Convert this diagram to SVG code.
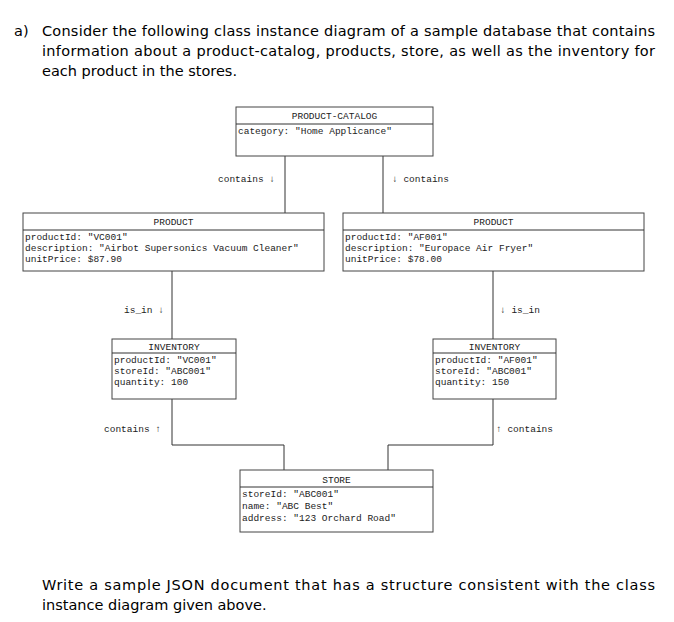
<svg xmlns="http://www.w3.org/2000/svg" width="674" height="622" viewBox="0 0 674 622">
<style>
.p{font-family:"DejaVu Sans",Verdana,sans-serif;font-size:14.5px;fill:#000}
.m{font-family:'Liberation Mono','Courier New','Nimbus Mono PS',Courier,monospace;font-size:9.5px;font-weight:normal;fill:#222}
.b{fill:#fff;stroke:#444;stroke-width:1}
.c{fill:none;stroke:#333;stroke-width:1}
</style>
<rect width="674" height="622" fill="#fff"/>
<text class="p" x="14" y="36">a)</text>
<text class="p" x="42" y="36" textLength="613" lengthAdjust="spacing">Consider the following class instance diagram of a sample database that contains</text>
<text class="p" x="42" y="56" textLength="613" lengthAdjust="spacing">information about a product-catalog, products, store, as well as the inventory for</text>
<text class="p" x="42" y="76">each product in the stores.</text>
<g id="connectors">
<path class="c" d="M285 156V213M383 156V213M172 271V339M493 271V339M172 399V445H284V470M493 399V445H388V470"/>
<text class="m" x="218" y="182">contains ↓</text>
<text class="m" x="392" y="182">↓ contains</text>
<text class="m" x="124" y="313">is_in ↓</text>
<text class="m" x="500" y="313">↓ is_in</text>
<text class="m" x="104" y="432">contains ↑</text>
<text class="m" x="496" y="432">↑ contains</text>
</g>
<g id="catalog">
<rect class="b" x="236" y="107" width="197" height="49"/><line class="c" x1="236" y1="124" x2="433" y2="124"/>
<text class="m" x="334.5" y="119" text-anchor="middle">PRODUCT-CATALOG</text>
<text class="m" x="238" y="134">category: "Home Applicance"</text>
</g>
<g id="product1">
<rect class="b" x="23" y="213" width="301" height="58"/><line class="c" x1="23" y1="230" x2="324" y2="230"/>
<text class="m" x="173.5" y="225" text-anchor="middle">PRODUCT</text>
<text class="m" x="25" y="240">productId: "VC001"</text>
<text class="m" x="25" y="251">description: "Airbot Supersonics Vacuum Cleaner"</text>
<text class="m" x="25" y="262">unitPrice: $87.90</text>
</g>
<g id="product2">
<rect class="b" x="343" y="213" width="301" height="58"/><line class="c" x1="343" y1="230" x2="644" y2="230"/>
<text class="m" x="493.5" y="225" text-anchor="middle">PRODUCT</text>
<text class="m" x="345" y="240">productId: "AF001"</text>
<text class="m" x="345" y="251">description: "Europace Air Fryer"</text>
<text class="m" x="345" y="262">unitPrice: $78.00</text>
</g>
<g id="inventory1">
<rect class="b" x="112" y="339" width="124" height="60"/><line class="c" x1="112" y1="353" x2="236" y2="353"/>
<text class="m" x="174" y="350" text-anchor="middle">INVENTORY</text>
<text class="m" x="114" y="363">productId: "VC001"</text>
<text class="m" x="114" y="374">storeId: "ABC001"</text>
<text class="m" x="114" y="385">quantity: 100</text>
</g>
<g id="inventory2">
<rect class="b" x="433" y="339" width="123" height="60"/><line class="c" x1="433" y1="353" x2="556" y2="353"/>
<text class="m" x="494.5" y="350" text-anchor="middle">INVENTORY</text>
<text class="m" x="435" y="363">productId: "AF001"</text>
<text class="m" x="435" y="374">storeId: "ABC001"</text>
<text class="m" x="435" y="385">quantity: 150</text>
</g>
<g id="store">
<rect class="b" x="240" y="470" width="193" height="62"/><line class="c" x1="240" y1="487" x2="433" y2="487"/>
<text class="m" x="336.5" y="483" text-anchor="middle">STORE</text>
<text class="m" x="242" y="497">storeId: "ABC001"</text>
<text class="m" x="242" y="509">name: "ABC Best"</text>
<text class="m" x="242" y="521">address: "123 Orchard Road"</text>
</g>
<text class="p" x="42" y="590" textLength="613" lengthAdjust="spacing">Write a sample JSON document that has a structure consistent with the class</text>
<text class="p" x="42" y="610">instance diagram given above.</text>
</svg>
